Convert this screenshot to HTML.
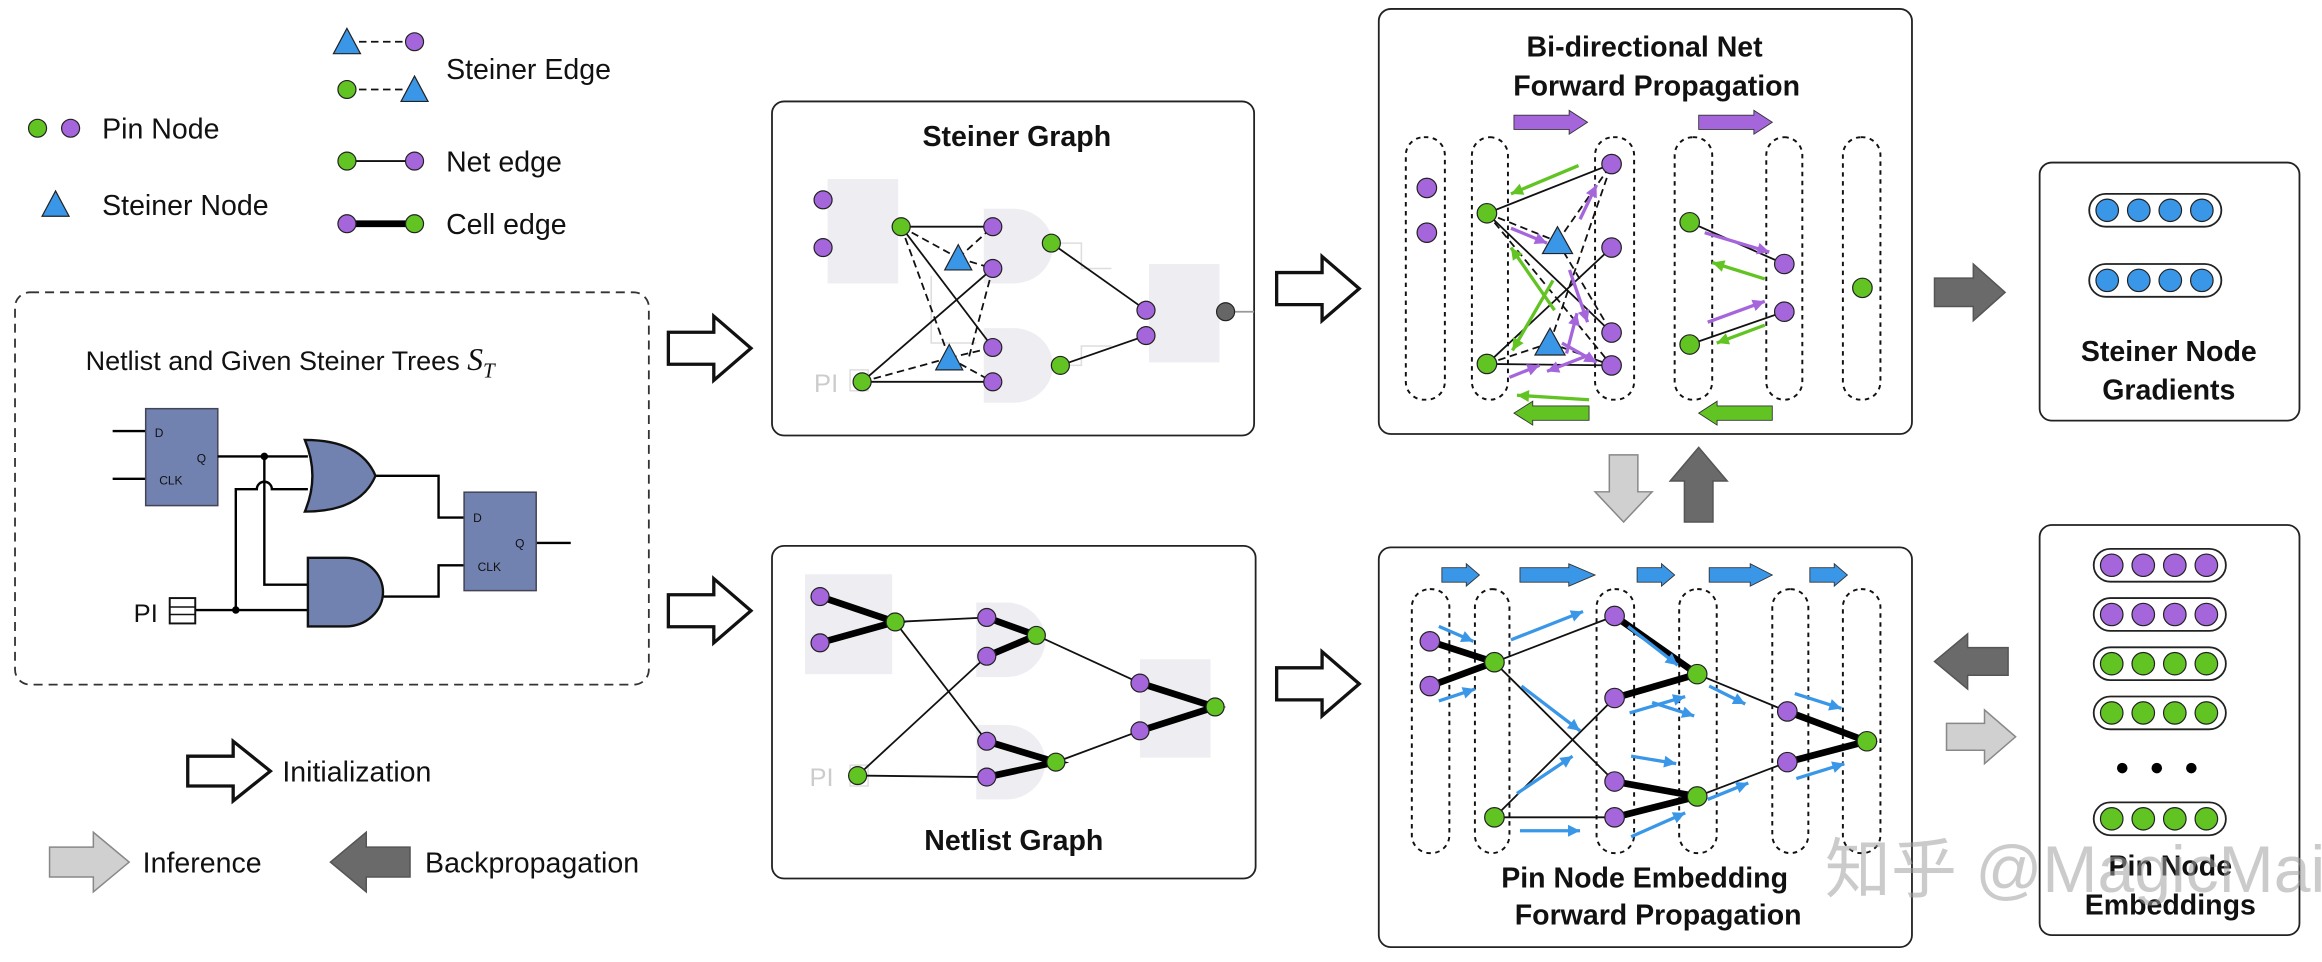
<!DOCTYPE html>
<html><head><meta charset="utf-8">
<style>
html,body{margin:0;padding:0;background:#fff;}
svg{display:block;}
text{font-family:"Liberation Sans",Arial,sans-serif;}
</style></head>
<body>
<svg id="s" width="2322" height="962" viewBox="0 0 1546 645" preserveAspectRatio="none" xmlns="http://www.w3.org/2000/svg">
<defs>
<style>
.t{font-size:19px;fill:#111;}
.b{font-size:19px;font-weight:bold;fill:#111;}
.box{fill:#fff;stroke:#222;stroke-width:1.2;}
.col{fill:none;stroke:#111;stroke-width:1.3;stroke-dasharray:3 3;}
.cell{fill:#eeeef2;}
.w{stroke:#000;stroke-width:1.6;fill:none;}
.thin{stroke:#111;stroke-width:1.2;fill:none;}
.thick{stroke:#000;stroke-width:4.5;fill:none;}
.dash{stroke:#111;stroke-width:1.2;stroke-dasharray:5 3;fill:none;}
.g{fill:#62c423;stroke:#222;stroke-width:0.8;}
.p{fill:#a566dc;stroke:#222;stroke-width:0.8;}
.bl{fill:#3a97e8;stroke:#222;stroke-width:0.8;}
.gate{fill:#7182b0;stroke:#111;stroke-width:1.6;}
</style>
</defs>

<!-- Legend -->
<circle class="g" cx="25" cy="86" r="6"/><circle class="p" cx="47" cy="86" r="6"/>
<text class="t" x="68" y="93">Pin Node</text>
<polygon class="bl" points="37,128 28,145 46,145"/>
<text class="t" x="68" y="144">Steiner Node</text>
<line class="dash" x1="231" y1="28" x2="276" y2="28"/>
<polygon class="bl" points="231,19 222,36 240,36"/><circle class="p" cx="276" cy="28" r="6"/>
<line class="dash" x1="231" y1="60" x2="276" y2="60"/>
<circle class="g" cx="231" cy="60" r="6"/><polygon class="bl" points="276,51 267,68 285,68"/>
<text class="t" x="297" y="53">Steiner Edge</text>
<line class="thin" x1="231" y1="108" x2="276" y2="108"/>
<circle class="g" cx="231" cy="108" r="6"/><circle class="p" cx="276" cy="108" r="6"/>
<text class="t" x="297" y="115">Net edge</text>
<line class="thick" x1="231" y1="150" x2="276" y2="150"/>
<circle class="p" cx="231" cy="150" r="6"/><circle class="g" cx="276" cy="150" r="6"/>
<text class="t" x="297" y="157">Cell edge</text>

<!-- Netlist dashed box -->
<rect x="10" y="196" width="422" height="263" rx="10" fill="none" stroke="#333" stroke-width="1.2" stroke-dasharray="6 4"/>
<text class="t" x="57" y="248" style="font-size:18px">Netlist and Given Steiner Trees <tspan font-family="Liberation Serif" font-style="italic" font-size="21">S</tspan><tspan font-family="Liberation Serif" font-style="italic" font-size="14" dy="5">T</tspan></text>
<!-- circuit -->
<line class="w" x1="75" y1="289" x2="97" y2="289" stroke-width="1"/>
<line class="w" x1="75" y1="321" x2="97" y2="321" stroke-width="1"/>
<rect x="97" y="274" width="48" height="65" fill="#7182b0" stroke="#445" stroke-width="1"/>
<text x="103" y="293" font-size="8" fill="#111">D</text>
<text x="131" y="310" font-size="8" fill="#111">Q</text>
<text x="106" y="325" font-size="8" fill="#111">CLK</text>
<path class="w" d="M145,306 H205 M176,306 V392 H205 M130,409 H205 M157,409 V328 H171 A5,5 0 0 1 181,328 H205"/>
<path class="w" d="M250,319 H292 V347 H309 M255,400 H292 V379 H309 M357,364 H380" />
<path class="gate" d="M203,295 Q240,295 250,319 Q240,343 203,343 Q213,319 203,295 Z"/>
<path class="gate" d="M205,374 H230 A25,23 0 0 1 230,420 H205 Z"/>
<rect x="309" y="330" width="48" height="66" fill="#7182b0" stroke="#445" stroke-width="1"/>
<text x="315" y="350" font-size="8" fill="#111">D</text>
<text x="343" y="367" font-size="8" fill="#111">Q</text>
<text x="318" y="383" font-size="8" fill="#111">CLK</text>
<circle cx="176" cy="306" r="2.5"/><circle cx="157" cy="409" r="2.5"/>
<rect x="113" y="401" width="17" height="17" fill="#fff" stroke="#111" stroke-width="1.3"/>
<line x1="113" y1="407" x2="130" y2="407" stroke="#111"/><line x1="113" y1="412" x2="130" y2="412" stroke="#111"/>
<text x="89" y="417" font-size="17" fill="#111">PI</text>

<!-- bottom legend -->
<g id="arrows"></g>
<text class="t" x="188" y="524">Initialization</text>
<text class="t" x="95" y="585">Inference</text>
<text class="t" x="283" y="585">Backpropagation</text>

<!-- Steiner Graph box -->
<rect class="box" x="514" y="68" width="321" height="224" rx="8"/>
<text class="b" x="677" y="98" text-anchor="middle">Steiner Graph</text>
<rect class="cell" x="551" y="120" width="47" height="70"/>
<path class="cell" d="M655,140 h20 a26,25 0 0 1 0,50 h-20z"/>
<path class="cell" d="M655,220 h20 a26,25 0 0 1 0,50 h-20z"/>
<rect class="cell" x="765" y="177" width="47" height="66"/>
<path d="M700,163 H720 V180 H740 M706,245 H720 V232 H740 M620,185 V230 H650" stroke="#ddd" fill="none"/>
<text x="542" y="263" font-size="17" fill="#ccc">PI</text>
<rect x="566" y="248" width="12" height="14" fill="none" stroke="#ddd"/>
<g class="thin">
<line x1="600" y1="152" x2="661" y2="152"/><line x1="600" y1="152" x2="661" y2="233"/>
<line x1="574" y1="256" x2="661" y2="256"/><line x1="574" y1="256" x2="661" y2="180"/>
<line x1="700" y1="163" x2="763" y2="208"/><line x1="706" y1="245" x2="763" y2="225"/>
<line x1="812" y1="209" x2="835" y2="209" stroke="#999"/>
</g>
<g class="dash">
<line x1="600" y1="152" x2="638" y2="173"/><line x1="638" y1="173" x2="661" y2="152"/><line x1="638" y1="173" x2="661" y2="180"/>
<line x1="600" y1="152" x2="632" y2="240"/><line x1="574" y1="256" x2="632" y2="240"/>
<line x1="632" y1="240" x2="661" y2="233"/><line x1="632" y1="240" x2="661" y2="256"/><line x1="661" y1="180" x2="645" y2="240"/>
</g>
<circle class="p" cx="548" cy="134" r="6"/><circle class="p" cx="548" cy="166" r="6"/>
<circle class="g" cx="600" cy="152" r="6"/>
<circle class="p" cx="661" cy="152" r="6"/><circle class="p" cx="661" cy="180" r="6"/>
<circle class="p" cx="661" cy="233" r="6"/><circle class="p" cx="661" cy="256" r="6"/>
<circle class="g" cx="700" cy="163" r="6"/><circle class="g" cx="706" cy="245" r="6"/>
<circle class="p" cx="763" cy="208" r="6"/><circle class="p" cx="763" cy="225" r="6"/>
<circle cx="816" cy="209" r="6" fill="#666" stroke="#222" stroke-width="0.8"/>
<circle class="g" cx="574" cy="256" r="6"/>
<polygon class="bl" points="638,164 629,181 647,181"/>
<polygon class="bl" points="632,231 623,248 641,248"/>

<!-- Netlist Graph box -->
<rect class="box" x="514" y="366" width="322" height="223" rx="8"/>
<text class="b" x="675" y="570" text-anchor="middle">Netlist Graph</text>
<rect class="cell" x="536" y="385" width="58" height="67"/>
<path class="cell" d="M650,404 h20 a26,25 0 0 1 0,50 h-20z"/>
<path class="cell" d="M650,486 h20 a26,25 0 0 1 0,50 h-20z"/>
<rect class="cell" x="759" y="442" width="47" height="66"/>
<text x="539" y="527" font-size="17" fill="#ccc">PI</text>
<rect x="566" y="513" width="12" height="14" fill="none" stroke="#ddd"/>
<g class="thin">
<line x1="596" y1="417" x2="657" y2="414"/><line x1="596" y1="417" x2="657" y2="497"/>
<line x1="571" y1="520" x2="657" y2="440"/><line x1="571" y1="520" x2="657" y2="521"/>
<line x1="690" y1="426" x2="759" y2="458"/><line x1="703" y1="511" x2="759" y2="490"/>
</g>
<g class="thick">
<path d="M546,400 L596,417 L546,431"/><path d="M657,414 L690,426 L657,440"/>
<path d="M657,497 L703,511 L657,521"/><path d="M759,458 L809,474 L759,490"/>
</g>
<circle class="p" cx="546" cy="400" r="6"/><circle class="p" cx="546" cy="431" r="6"/>
<circle class="g" cx="596" cy="417" r="6"/>
<circle class="p" cx="657" cy="414" r="6"/><circle class="p" cx="657" cy="440" r="6"/>
<circle class="p" cx="657" cy="497" r="6"/><circle class="p" cx="657" cy="521" r="6"/>
<circle class="g" cx="690" cy="426" r="6"/><circle class="g" cx="703" cy="511" r="6"/>
<circle class="p" cx="759" cy="458" r="6"/><circle class="p" cx="759" cy="490" r="6"/>
<circle class="g" cx="809" cy="474" r="6"/><circle class="g" cx="571" cy="520" r="6"/>

<!-- Bi-directional box -->
<rect class="box" x="918" y="6" width="355" height="285" rx="8"/>
<text class="b" x="1095" y="38" text-anchor="middle">Bi-directional Net</text>
<text class="b" x="1103" y="64" text-anchor="middle">Forward Propagation</text>
<rect class="col" x="936" y="92" width="26" height="176" rx="12"/>
<rect class="col" x="980" y="92" width="24" height="176" rx="12"/>
<rect class="col" x="1062" y="92" width="26" height="176" rx="12"/>
<rect class="col" x="1115" y="92" width="25" height="176" rx="12"/>
<rect class="col" x="1176" y="92" width="24" height="176" rx="12"/>
<rect class="col" x="1227" y="92" width="25" height="176" rx="12"/>
<g class="thin">
<line x1="990" y1="143" x2="1073" y2="110"/><line x1="990" y1="143" x2="1073" y2="223"/>
<line x1="990" y1="244" x2="1073" y2="166"/><line x1="990" y1="244" x2="1073" y2="245"/>
<line x1="1125" y1="149" x2="1188" y2="177"/><line x1="1125" y1="231" x2="1188" y2="209"/>
</g>
<g class="dash">
<line x1="990" y1="143" x2="1037" y2="162"/><line x1="1037" y1="162" x2="1073" y2="110"/><line x1="1037" y1="162" x2="1073" y2="223"/>
<line x1="990" y1="143" x2="1073" y2="245"/><line x1="990" y1="244" x2="1032" y2="230"/>
<line x1="1032" y1="230" x2="1073" y2="245"/><line x1="1032" y1="230" x2="1073" y2="110"/>
</g>
<g id="bdarrows"></g>
<circle class="p" cx="950" cy="126" r="6.5"/><circle class="p" cx="950" cy="156" r="6.5"/>
<circle class="g" cx="990" cy="143" r="6.5"/><circle class="g" cx="990" cy="244" r="6.5"/>
<circle class="p" cx="1073" cy="110" r="6.5"/><circle class="p" cx="1073" cy="166" r="6.5"/>
<circle class="p" cx="1073" cy="223" r="6.5"/><circle class="p" cx="1073" cy="245" r="6.5"/>
<circle class="g" cx="1125" cy="149" r="6.5"/><circle class="g" cx="1125" cy="231" r="6.5"/>
<circle class="p" cx="1188" cy="177" r="6.5"/><circle class="p" cx="1188" cy="209" r="6.5"/>
<circle class="g" cx="1240" cy="193" r="6.5"/>
<polygon class="bl" points="1037,152 1027,170 1047,170"/>
<polygon class="bl" points="1032,220 1022,238 1042,238"/>

<!-- Pin Node Embedding box -->
<rect class="box" x="918" y="367" width="355" height="268" rx="8"/>
<rect class="col" x="940" y="395" width="25" height="177" rx="12"/>
<rect class="col" x="982" y="395" width="23" height="177" rx="12"/>
<rect class="col" x="1063" y="395" width="25" height="177" rx="12"/>
<rect class="col" x="1118" y="395" width="25" height="177" rx="12"/>
<rect class="col" x="1180" y="395" width="24" height="177" rx="12"/>
<rect class="col" x="1227" y="395" width="25" height="177" rx="12"/>
<g class="thin">
<line x1="995" y1="444" x2="1075" y2="413"/><line x1="995" y1="444" x2="1075" y2="524"/>
<line x1="995" y1="548" x2="1075" y2="468"/><line x1="995" y1="548" x2="1075" y2="548"/>
<line x1="1130" y1="452" x2="1190" y2="477"/><line x1="1130" y1="534" x2="1190" y2="511"/>
</g>
<g class="thick">
<path d="M952,430 L995,444 L952,460"/><path d="M1075,413 L1130,452 L1075,468"/>
<path d="M1075,524 L1130,534 L1075,548"/><path d="M1190,477 L1243,497 L1190,511"/>
</g>
<g id="pnarrows"></g>
<circle class="p" cx="952" cy="430" r="6.5"/><circle class="p" cx="952" cy="460" r="6.5"/>
<circle class="g" cx="995" cy="444" r="6.5"/><circle class="g" cx="995" cy="548" r="6.5"/>
<circle class="p" cx="1075" cy="413" r="6.5"/><circle class="p" cx="1075" cy="468" r="6.5"/>
<circle class="p" cx="1075" cy="524" r="6.5"/><circle class="p" cx="1075" cy="548" r="6.5"/>
<circle class="g" cx="1130" cy="452" r="6.5"/><circle class="g" cx="1130" cy="534" r="6.5"/>
<circle class="p" cx="1190" cy="477" r="6.5"/><circle class="p" cx="1190" cy="511" r="6.5"/>
<circle class="g" cx="1243" cy="497" r="6.5"/>
<text class="b" x="1095" y="595" text-anchor="middle">Pin Node Embedding</text>
<text class="b" x="1104" y="620" text-anchor="middle">Forward Propagation</text>

<!-- Steiner Node Gradients -->
<rect class="box" x="1358" y="109" width="173" height="173" rx="8"/>
<text class="b" x="1444" y="242" text-anchor="middle">Steiner Node</text>
<text class="b" x="1444" y="268" text-anchor="middle">Gradients</text>

<!-- Pin Node Embeddings -->
<rect class="box" x="1358" y="352" width="173" height="275" rx="8"/>
<circle cx="1413" cy="515" r="3.5"/><circle cx="1436" cy="515" r="3.5"/><circle cx="1459" cy="515" r="3.5"/>
<text class="b" x="1445" y="587" text-anchor="middle">Pin Node</text>
<text class="b" x="1445" y="613" text-anchor="middle">Embeddings</text>
<g id="pills"></g>

<!-- watermark -->
<text x="1215" y="598" font-size="44" fill="rgba(160,160,160,0.55)" font-family="'Liberation Sans','Noto Sans CJK SC',sans-serif">知乎 @MagicMai</text>
</svg>
<script>
const NS="http://www.w3.org/2000/svg";
function add(g,tag,attrs){const e=document.createElementNS(NS,tag);for(const k in attrs)e.setAttribute(k,attrs[k]);document.getElementById(g).appendChild(e);return e;}
function barrow(g,dir,x,y,w,h,fill,stroke,sw,tailFrac,headFrac){
  tailFrac=tailFrac||0.5; headFrac=headFrac||0.45;
  let pts;
  if(dir=='r'||dir=='l'){
    const t=h*tailFrac/2,c=y+h/2,m=w*(1-headFrac);
    pts=[[0,c-t],[m,c-t],[m,y],[w,c],[m,y+h],[m,c+t],[0,c+t]];
    pts=pts.map(p=>[dir=='r'?x+p[0]:x+w-p[0],p[1]]);
  } else {
    const t=w*tailFrac/2,c=x+w/2,m=h*(1-headFrac);
    pts=[[c-t,0],[c-t,m],[x,m],[c,h],[x+w,m],[c+t,m],[c+t,0]];
    pts=pts.map(p=>[p[0],dir=='d'?y+p[1]:y+h-p[1]]);
  }
  add(g,'polygon',{points:pts.map(p=>p.join(',')).join(' '),fill:fill,stroke:stroke,'stroke-width':sw});
}
barrow('arrows','r',445,212,55,43,'#fff','#111',2.2);
barrow('arrows','r',445,388,55,43,'#fff','#111',2.2);
barrow('arrows','r',850,172,55,43,'#fff','#111',2.2);
barrow('arrows','r',850,437,55,43,'#fff','#111',2.2);
barrow('arrows','r',125,497,55,40,'#fff','#111',2.2);
barrow('arrows','r',33,558,53,40,'#d0d0d0','#888',1);
barrow('arrows','l',220,558,53,40,'#6a6a6a','#555',1);
barrow('arrows','d',1062,305,38,45,'#d0d0d0','#888',1);
barrow('arrows','u',1112,300,38,50,'#6a6a6a','#555',1);
barrow('arrows','r',1288,177,47,38,'#6a6a6a','#555',1);
barrow('arrows','l',1288,425,49,37,'#6a6a6a','#555',1);
barrow('arrows','r',1296,476,46,36,'#d0d0d0','#888',1);
barrow('bdarrows','r',1008,74,49,16,'#a566dc','#333',0.6,0.6,0.25);
barrow('bdarrows','r',1131,74,49,16,'#a566dc','#333',0.6,0.6,0.25);
barrow('bdarrows','l',1008,269,50,16,'#62c423','#333',0.6,0.6,0.25);
barrow('bdarrows','l',1131,269,49,16,'#62c423','#333',0.6,0.6,0.25);
[[960,985],[1012,1062],[1090,1115],[1138,1180],[1205,1230]].forEach(a=>barrow('pnarrows','r',a[0],378,a[1]-a[0],15,'#3a97e8','#333',0.6,0.65,0.35));
function tarrow(g,x1,y1,x2,y2,col){
  add(g,'line',{x1:x1,y1:y1,x2:x2,y2:y2,stroke:col,'stroke-width':2.2});
  const a=Math.atan2(y2-y1,x2-x1),L=8,W=4;
  const bx=x2-L*Math.cos(a),by=y2-L*Math.sin(a);
  add(g,'polygon',{points:`${x2},${y2} ${bx-W*Math.sin(a)},${by+W*Math.cos(a)} ${bx+W*Math.sin(a)},${by-W*Math.cos(a)}`,fill:col});
}
const P='#a566dc',G='#62c423',B='#3a97e8';
tarrow('bdarrows',1051,111,1006,130,G);
tarrow('bdarrows',1006,153,1030,163,P);
tarrow('bdarrows',1052,147,1063,124,P);
tarrow('bdarrows',1035,208,1006,166,G);
tarrow('bdarrows',1034,188,1007,235,G);
tarrow('bdarrows',1045,181,1057,216,P);
tarrow('bdarrows',1005,253,1025,245,P);
tarrow('bdarrows',1043,237,1050,210,P);
tarrow('bdarrows',1040,230,1063,243,P);
tarrow('bdarrows',1058,238,1030,249,P);
tarrow('bdarrows',1058,268,1010,265,G);
tarrow('bdarrows',1135,156,1178,169,P);
tarrow('bdarrows',1175,187,1140,176,G);
tarrow('bdarrows',1137,216,1175,202,P);
tarrow('bdarrows',1175,218,1143,230,G);
const pa=[[958,420,981,430],[958,470,982,462],[1006,429,1054,410],[1013,460,1052,490],[1010,532,1047,507],[1012,557,1052,557],[1084,420,1117,446],[1085,478,1122,467],[1086,507,1116,512],[1086,561,1122,545],[1100,471,1128,480],[1137,536,1164,525],[1195,465,1226,475],[1196,522,1228,512],[1138,460,1162,472]];
pa.forEach(a=>tarrow('pnarrows',a[0],a[1],a[2],a[3],B));
function pill(y,x0,cols){
  add('pills','rect',{x:x0,y:y-11,width:88,height:22,rx:11,fill:'#fff',stroke:'#222','stroke-width':1.2});
  cols.forEach((c,i)=>add('pills','circle',{cx:x0+12+i*21,cy:y,r:7.5,fill:c,stroke:'#222','stroke-width':0.8}));
}
pill(141,1391,[B,B,B,B]);pill(188,1391,[B,B,B,B]);
pill(379,1394,[P,P,P,P]);pill(412,1394,[P,P,P,P]);pill(445,1394,[G,G,G,G]);pill(478,1394,[G,G,G,G]);pill(549,1394,[G,G,G,G]);
</script>
</body></html>
